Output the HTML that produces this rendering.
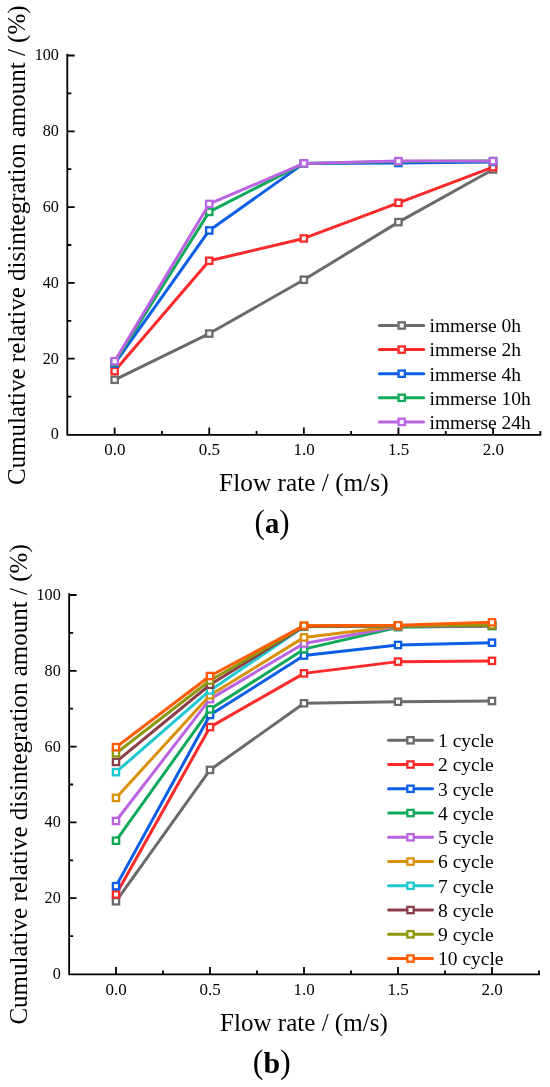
<!DOCTYPE html>
<html><head><meta charset="utf-8"><title>Cumulative relative disintegration amount</title>
<style>
html,body{margin:0;padding:0;background:#fff;}
body{width:550px;height:1087px;overflow:hidden;}
svg{display:block;}
svg text{font-family:"Liberation Serif","Times New Roman",serif;fill:#000;}
</style></head><body>
<svg width="550" height="1087" viewBox="0 0 550 1087">
<path d="M67.3 54.6V434.9H540.35" fill="none" stroke="#000" stroke-width="1.8" stroke-linejoin="round" stroke-linecap="square"/>
<path d="M67.3 396.6h4M67.3 358.7h7.4M67.3 320.8h4M67.3 282.9h7.4M67.3 245h4M67.3 207.1h7.4M67.3 169.2h4M67.3 131.3h7.4M67.3 93.4h4M67.3 55.5h7.4M114.65 434.9v-7.4M161.95 434.9v-4M209.25 434.9v-7.4M256.55 434.9v-4M303.85 434.9v-7.4M351.15 434.9v-4M398.45 434.9v-7.4M445.75 434.9v-4M493.05 434.9v-7.4M540.35 434.9v-4" stroke="#000" stroke-width="1.8" fill="none"/>
<text transform="translate(58.9 439.4) scale(0.95 1)" text-anchor="end" font-size="17">0</text>
<text transform="translate(58.9 363.6) scale(0.95 1)" text-anchor="end" font-size="17">20</text>
<text transform="translate(58.9 287.8) scale(0.95 1)" text-anchor="end" font-size="17">40</text>
<text transform="translate(58.9 212) scale(0.95 1)" text-anchor="end" font-size="17">60</text>
<text transform="translate(58.9 136.2) scale(0.95 1)" text-anchor="end" font-size="17">80</text>
<text transform="translate(58.9 60.4) scale(0.95 1)" text-anchor="end" font-size="17">100</text>
<text x="114.85" y="455.1" text-anchor="middle" font-size="17">0.0</text>
<text x="209.45" y="455.1" text-anchor="middle" font-size="17">0.5</text>
<text x="304.05" y="455.1" text-anchor="middle" font-size="17">1.0</text>
<text x="398.65" y="455.1" text-anchor="middle" font-size="17">1.5</text>
<text x="493.25" y="455.1" text-anchor="middle" font-size="17">2.0</text>
<polyline points="114.65,379.8 209.25,333.56 303.85,279.75 398.45,222.14 493.05,169.46" fill="none" stroke="#6b6b6b" stroke-width="3.0" stroke-linejoin="round" stroke-linecap="round"/>
<rect x="111.5" y="376.65" width="6.3" height="6.3" fill="#fff" stroke="#6b6b6b" stroke-width="2.3"/>
<rect x="206.1" y="330.42" width="6.3" height="6.3" fill="#fff" stroke="#6b6b6b" stroke-width="2.3"/>
<rect x="300.7" y="276.6" width="6.3" height="6.3" fill="#fff" stroke="#6b6b6b" stroke-width="2.3"/>
<rect x="395.3" y="218.99" width="6.3" height="6.3" fill="#fff" stroke="#6b6b6b" stroke-width="2.3"/>
<rect x="489.9" y="166.31" width="6.3" height="6.3" fill="#fff" stroke="#6b6b6b" stroke-width="2.3"/>
<polyline points="114.65,371.09 209.25,260.8 303.85,238.44 398.45,202.81 493.05,167.18" fill="none" stroke="#fa2a2a" stroke-width="3.0" stroke-linejoin="round" stroke-linecap="round"/>
<rect x="111.5" y="367.94" width="6.3" height="6.3" fill="#fff" stroke="#fa2a2a" stroke-width="2.3"/>
<rect x="206.1" y="257.65" width="6.3" height="6.3" fill="#fff" stroke="#fa2a2a" stroke-width="2.3"/>
<rect x="300.7" y="235.29" width="6.3" height="6.3" fill="#fff" stroke="#fa2a2a" stroke-width="2.3"/>
<rect x="395.3" y="199.66" width="6.3" height="6.3" fill="#fff" stroke="#fa2a2a" stroke-width="2.3"/>
<rect x="489.9" y="164.03" width="6.3" height="6.3" fill="#fff" stroke="#fa2a2a" stroke-width="2.3"/>
<polyline points="114.65,363.51 209.25,230.48 303.85,163.39 398.45,163.01 493.05,161.88" fill="none" stroke="#0c5ee6" stroke-width="3.0" stroke-linejoin="round" stroke-linecap="round"/>
<rect x="111.5" y="360.36" width="6.3" height="6.3" fill="#fff" stroke="#0c5ee6" stroke-width="2.3"/>
<rect x="206.1" y="227.33" width="6.3" height="6.3" fill="#fff" stroke="#0c5ee6" stroke-width="2.3"/>
<rect x="300.7" y="160.24" width="6.3" height="6.3" fill="#fff" stroke="#0c5ee6" stroke-width="2.3"/>
<rect x="395.3" y="159.86" width="6.3" height="6.3" fill="#fff" stroke="#0c5ee6" stroke-width="2.3"/>
<rect x="489.9" y="158.73" width="6.3" height="6.3" fill="#fff" stroke="#0c5ee6" stroke-width="2.3"/>
<polyline points="114.65,362.37 209.25,211.91 303.85,163.39 398.45,161.5 493.05,161.12" fill="none" stroke="#0fa95a" stroke-width="3.0" stroke-linejoin="round" stroke-linecap="round"/>
<rect x="111.5" y="359.22" width="6.3" height="6.3" fill="#fff" stroke="#0fa95a" stroke-width="2.3"/>
<rect x="206.1" y="208.76" width="6.3" height="6.3" fill="#fff" stroke="#0fa95a" stroke-width="2.3"/>
<rect x="300.7" y="160.24" width="6.3" height="6.3" fill="#fff" stroke="#0fa95a" stroke-width="2.3"/>
<rect x="395.3" y="158.35" width="6.3" height="6.3" fill="#fff" stroke="#0fa95a" stroke-width="2.3"/>
<rect x="489.9" y="157.97" width="6.3" height="6.3" fill="#fff" stroke="#0fa95a" stroke-width="2.3"/>
<polyline points="114.65,361.23 209.25,203.95 303.85,163.39 398.45,161.12 493.05,161.12" fill="none" stroke="#bb64e2" stroke-width="3.0" stroke-linejoin="round" stroke-linecap="round"/>
<rect x="111.5" y="358.08" width="6.3" height="6.3" fill="#fff" stroke="#bb64e2" stroke-width="2.3"/>
<rect x="206.1" y="200.8" width="6.3" height="6.3" fill="#fff" stroke="#bb64e2" stroke-width="2.3"/>
<rect x="300.7" y="160.24" width="6.3" height="6.3" fill="#fff" stroke="#bb64e2" stroke-width="2.3"/>
<rect x="395.3" y="157.97" width="6.3" height="6.3" fill="#fff" stroke="#bb64e2" stroke-width="2.3"/>
<rect x="489.9" y="157.97" width="6.3" height="6.3" fill="#fff" stroke="#bb64e2" stroke-width="2.3"/>
<path d="M379.4 325.5H423.7" stroke="#6b6b6b" stroke-width="3.0" stroke-linecap="round"/>
<rect x="398.55" y="322.35" width="6.3" height="6.3" fill="#fff" stroke="#6b6b6b" stroke-width="2.3"/>
<text x="429.5" y="332.3" font-size="19.5">immerse 0h</text>
<path d="M379.4 349.6H423.7" stroke="#fa2a2a" stroke-width="3.0" stroke-linecap="round"/>
<rect x="398.55" y="346.45" width="6.3" height="6.3" fill="#fff" stroke="#fa2a2a" stroke-width="2.3"/>
<text x="429.5" y="356.4" font-size="19.5">immerse 2h</text>
<path d="M379.4 373.7H423.7" stroke="#0c5ee6" stroke-width="3.0" stroke-linecap="round"/>
<rect x="398.55" y="370.55" width="6.3" height="6.3" fill="#fff" stroke="#0c5ee6" stroke-width="2.3"/>
<text x="429.5" y="380.5" font-size="19.5">immerse 4h</text>
<path d="M379.4 397.8H423.7" stroke="#0fa95a" stroke-width="3.0" stroke-linecap="round"/>
<rect x="398.55" y="394.65" width="6.3" height="6.3" fill="#fff" stroke="#0fa95a" stroke-width="2.3"/>
<text x="429.5" y="404.6" font-size="19.5">immerse 10h</text>
<path d="M379.4 421.9H423.7" stroke="#bb64e2" stroke-width="3.0" stroke-linecap="round"/>
<rect x="398.55" y="418.75" width="6.3" height="6.3" fill="#fff" stroke="#bb64e2" stroke-width="2.3"/>
<text x="429.5" y="428.7" font-size="19.5">immerse 24h</text>
<text transform="translate(25.2 485) rotate(-90) scale(0.9613 1)" font-size="26">Cumulative relative disintegration amount / (%)</text>
<text transform="translate(219.1 490.9) scale(0.9744 1)" font-size="26">Flow rate / (m/s)</text>
<text transform="translate(254.6 532.5) scale(0.94 1)" font-size="33">(<tspan font-weight="bold" font-size="30.5">a</tspan>)</text>
<path d="M69.15 594.1V974.4H539" fill="none" stroke="#000" stroke-width="1.8" stroke-linejoin="round" stroke-linecap="square"/>
<path d="M69.15 936.1h4M69.15 898.2h7.4M69.15 860.3h4M69.15 822.4h7.4M69.15 784.5h4M69.15 746.6h7.4M69.15 708.7h4M69.15 670.8h7.4M69.15 632.9h4M69.15 595h7.4M116 974.4v-7.4M163 974.4v-4M210 974.4v-7.4M257 974.4v-4M304 974.4v-7.4M351 974.4v-4M398 974.4v-7.4M445 974.4v-4M492 974.4v-7.4M539 974.4v-4" stroke="#000" stroke-width="1.8" fill="none"/>
<text transform="translate(60.75 978.9) scale(0.95 1)" text-anchor="end" font-size="17">0</text>
<text transform="translate(60.75 903.1) scale(0.95 1)" text-anchor="end" font-size="17">20</text>
<text transform="translate(60.75 827.3) scale(0.95 1)" text-anchor="end" font-size="17">40</text>
<text transform="translate(60.75 751.5) scale(0.95 1)" text-anchor="end" font-size="17">60</text>
<text transform="translate(60.75 675.7) scale(0.95 1)" text-anchor="end" font-size="17">80</text>
<text transform="translate(60.75 599.9) scale(0.95 1)" text-anchor="end" font-size="17">100</text>
<text x="116.2" y="994.6" text-anchor="middle" font-size="17">0.0</text>
<text x="210.2" y="994.6" text-anchor="middle" font-size="17">0.5</text>
<text x="304.2" y="994.6" text-anchor="middle" font-size="17">1.0</text>
<text x="398.2" y="994.6" text-anchor="middle" font-size="17">1.5</text>
<text x="492.2" y="994.6" text-anchor="middle" font-size="17">2.0</text>
<polyline points="116,901.29 210,769.91 304,703.28 398,701.77 492,701.01" fill="none" stroke="#6b6b6b" stroke-width="3.0" stroke-linejoin="round" stroke-linecap="round"/>
<rect x="112.85" y="898.14" width="6.3" height="6.3" fill="#fff" stroke="#6b6b6b" stroke-width="2.3"/>
<rect x="206.85" y="766.76" width="6.3" height="6.3" fill="#fff" stroke="#6b6b6b" stroke-width="2.3"/>
<rect x="300.85" y="700.13" width="6.3" height="6.3" fill="#fff" stroke="#6b6b6b" stroke-width="2.3"/>
<rect x="394.85" y="698.62" width="6.3" height="6.3" fill="#fff" stroke="#6b6b6b" stroke-width="2.3"/>
<rect x="488.85" y="697.86" width="6.3" height="6.3" fill="#fff" stroke="#6b6b6b" stroke-width="2.3"/>
<polyline points="116,894.47 210,727.13 304,673.37 398,661.63 492,660.88" fill="none" stroke="#fa2a2a" stroke-width="3.0" stroke-linejoin="round" stroke-linecap="round"/>
<rect x="112.85" y="891.32" width="6.3" height="6.3" fill="#fff" stroke="#fa2a2a" stroke-width="2.3"/>
<rect x="206.85" y="723.98" width="6.3" height="6.3" fill="#fff" stroke="#fa2a2a" stroke-width="2.3"/>
<rect x="300.85" y="670.22" width="6.3" height="6.3" fill="#fff" stroke="#fa2a2a" stroke-width="2.3"/>
<rect x="394.85" y="658.48" width="6.3" height="6.3" fill="#fff" stroke="#fa2a2a" stroke-width="2.3"/>
<rect x="488.85" y="657.73" width="6.3" height="6.3" fill="#fff" stroke="#fa2a2a" stroke-width="2.3"/>
<polyline points="116,886.14 210,715.02 304,655.58 398,644.98 492,642.7" fill="none" stroke="#0c5ee6" stroke-width="3.0" stroke-linejoin="round" stroke-linecap="round"/>
<rect x="112.85" y="882.99" width="6.3" height="6.3" fill="#fff" stroke="#0c5ee6" stroke-width="2.3"/>
<rect x="206.85" y="711.87" width="6.3" height="6.3" fill="#fff" stroke="#0c5ee6" stroke-width="2.3"/>
<rect x="300.85" y="652.43" width="6.3" height="6.3" fill="#fff" stroke="#0c5ee6" stroke-width="2.3"/>
<rect x="394.85" y="641.83" width="6.3" height="6.3" fill="#fff" stroke="#0c5ee6" stroke-width="2.3"/>
<rect x="488.85" y="639.55" width="6.3" height="6.3" fill="#fff" stroke="#0c5ee6" stroke-width="2.3"/>
<polyline points="116,840.71 210,709.34 304,649.14 398,627.18 492,626.05" fill="none" stroke="#0fa95a" stroke-width="3.0" stroke-linejoin="round" stroke-linecap="round"/>
<rect x="112.85" y="837.56" width="6.3" height="6.3" fill="#fff" stroke="#0fa95a" stroke-width="2.3"/>
<rect x="206.85" y="706.19" width="6.3" height="6.3" fill="#fff" stroke="#0fa95a" stroke-width="2.3"/>
<rect x="300.85" y="645.99" width="6.3" height="6.3" fill="#fff" stroke="#0fa95a" stroke-width="2.3"/>
<rect x="394.85" y="624.03" width="6.3" height="6.3" fill="#fff" stroke="#0fa95a" stroke-width="2.3"/>
<rect x="488.85" y="622.9" width="6.3" height="6.3" fill="#fff" stroke="#0fa95a" stroke-width="2.3"/>
<polyline points="116,821.02 210,699.12 304,643.46 398,626.42 492,625.67" fill="none" stroke="#bb64e2" stroke-width="3.0" stroke-linejoin="round" stroke-linecap="round"/>
<rect x="112.85" y="817.87" width="6.3" height="6.3" fill="#fff" stroke="#bb64e2" stroke-width="2.3"/>
<rect x="206.85" y="695.97" width="6.3" height="6.3" fill="#fff" stroke="#bb64e2" stroke-width="2.3"/>
<rect x="300.85" y="640.31" width="6.3" height="6.3" fill="#fff" stroke="#bb64e2" stroke-width="2.3"/>
<rect x="394.85" y="623.27" width="6.3" height="6.3" fill="#fff" stroke="#bb64e2" stroke-width="2.3"/>
<rect x="488.85" y="622.52" width="6.3" height="6.3" fill="#fff" stroke="#bb64e2" stroke-width="2.3"/>
<polyline points="116,797.93 210,695.33 304,637.4 398,626.05 492,625.29" fill="none" stroke="#da910a" stroke-width="3.0" stroke-linejoin="round" stroke-linecap="round"/>
<rect x="112.85" y="794.78" width="6.3" height="6.3" fill="#fff" stroke="#da910a" stroke-width="2.3"/>
<rect x="206.85" y="692.18" width="6.3" height="6.3" fill="#fff" stroke="#da910a" stroke-width="2.3"/>
<rect x="300.85" y="634.25" width="6.3" height="6.3" fill="#fff" stroke="#da910a" stroke-width="2.3"/>
<rect x="394.85" y="622.9" width="6.3" height="6.3" fill="#fff" stroke="#da910a" stroke-width="2.3"/>
<rect x="488.85" y="622.14" width="6.3" height="6.3" fill="#fff" stroke="#da910a" stroke-width="2.3"/>
<polyline points="116,772.18 210,690.41 304,626.8 398,626.05 492,625.29" fill="none" stroke="#1fc8cf" stroke-width="3.0" stroke-linejoin="round" stroke-linecap="round"/>
<rect x="112.85" y="769.03" width="6.3" height="6.3" fill="#fff" stroke="#1fc8cf" stroke-width="2.3"/>
<rect x="206.85" y="687.26" width="6.3" height="6.3" fill="#fff" stroke="#1fc8cf" stroke-width="2.3"/>
<rect x="300.85" y="623.65" width="6.3" height="6.3" fill="#fff" stroke="#1fc8cf" stroke-width="2.3"/>
<rect x="394.85" y="622.9" width="6.3" height="6.3" fill="#fff" stroke="#1fc8cf" stroke-width="2.3"/>
<rect x="488.85" y="622.14" width="6.3" height="6.3" fill="#fff" stroke="#1fc8cf" stroke-width="2.3"/>
<polyline points="116,761.96 210,684.73 304,626.42 398,626.05 492,625.67" fill="none" stroke="#8a3e47" stroke-width="3.0" stroke-linejoin="round" stroke-linecap="round"/>
<rect x="112.85" y="758.81" width="6.3" height="6.3" fill="#fff" stroke="#8a3e47" stroke-width="2.3"/>
<rect x="206.85" y="681.58" width="6.3" height="6.3" fill="#fff" stroke="#8a3e47" stroke-width="2.3"/>
<rect x="300.85" y="623.27" width="6.3" height="6.3" fill="#fff" stroke="#8a3e47" stroke-width="2.3"/>
<rect x="394.85" y="622.9" width="6.3" height="6.3" fill="#fff" stroke="#8a3e47" stroke-width="2.3"/>
<rect x="488.85" y="622.52" width="6.3" height="6.3" fill="#fff" stroke="#8a3e47" stroke-width="2.3"/>
<polyline points="116,753.25 210,680.56 304,626.05 398,625.67 492,625.29" fill="none" stroke="#8e980c" stroke-width="3.0" stroke-linejoin="round" stroke-linecap="round"/>
<rect x="112.85" y="750.1" width="6.3" height="6.3" fill="#fff" stroke="#8e980c" stroke-width="2.3"/>
<rect x="206.85" y="677.41" width="6.3" height="6.3" fill="#fff" stroke="#8e980c" stroke-width="2.3"/>
<rect x="300.85" y="622.9" width="6.3" height="6.3" fill="#fff" stroke="#8e980c" stroke-width="2.3"/>
<rect x="394.85" y="622.52" width="6.3" height="6.3" fill="#fff" stroke="#8e980c" stroke-width="2.3"/>
<rect x="488.85" y="622.14" width="6.3" height="6.3" fill="#fff" stroke="#8e980c" stroke-width="2.3"/>
<polyline points="116,747.2 210,676.02 304,625.67 398,625.29 492,622.26" fill="none" stroke="#ff5c05" stroke-width="3.0" stroke-linejoin="round" stroke-linecap="round"/>
<rect x="112.85" y="744.05" width="6.3" height="6.3" fill="#fff" stroke="#ff5c05" stroke-width="2.3"/>
<rect x="206.85" y="672.87" width="6.3" height="6.3" fill="#fff" stroke="#ff5c05" stroke-width="2.3"/>
<rect x="300.85" y="622.52" width="6.3" height="6.3" fill="#fff" stroke="#ff5c05" stroke-width="2.3"/>
<rect x="394.85" y="622.14" width="6.3" height="6.3" fill="#fff" stroke="#ff5c05" stroke-width="2.3"/>
<rect x="488.85" y="619.11" width="6.3" height="6.3" fill="#fff" stroke="#ff5c05" stroke-width="2.3"/>
<path d="M388.6 740.3H432.5" stroke="#6b6b6b" stroke-width="3.0" stroke-linecap="round"/>
<rect x="407.35" y="737.15" width="6.3" height="6.3" fill="#fff" stroke="#6b6b6b" stroke-width="2.3"/>
<text x="438" y="747.1" font-size="19.5">1 cycle</text>
<path d="M388.6 764.55H432.5" stroke="#fa2a2a" stroke-width="3.0" stroke-linecap="round"/>
<rect x="407.35" y="761.4" width="6.3" height="6.3" fill="#fff" stroke="#fa2a2a" stroke-width="2.3"/>
<text x="438" y="771.35" font-size="19.5">2 cycle</text>
<path d="M388.6 788.8H432.5" stroke="#0c5ee6" stroke-width="3.0" stroke-linecap="round"/>
<rect x="407.35" y="785.65" width="6.3" height="6.3" fill="#fff" stroke="#0c5ee6" stroke-width="2.3"/>
<text x="438" y="795.6" font-size="19.5">3 cycle</text>
<path d="M388.6 813.05H432.5" stroke="#0fa95a" stroke-width="3.0" stroke-linecap="round"/>
<rect x="407.35" y="809.9" width="6.3" height="6.3" fill="#fff" stroke="#0fa95a" stroke-width="2.3"/>
<text x="438" y="819.85" font-size="19.5">4 cycle</text>
<path d="M388.6 837.3H432.5" stroke="#bb64e2" stroke-width="3.0" stroke-linecap="round"/>
<rect x="407.35" y="834.15" width="6.3" height="6.3" fill="#fff" stroke="#bb64e2" stroke-width="2.3"/>
<text x="438" y="844.1" font-size="19.5">5 cycle</text>
<path d="M388.6 861.55H432.5" stroke="#da910a" stroke-width="3.0" stroke-linecap="round"/>
<rect x="407.35" y="858.4" width="6.3" height="6.3" fill="#fff" stroke="#da910a" stroke-width="2.3"/>
<text x="438" y="868.35" font-size="19.5">6 cycle</text>
<path d="M388.6 885.8H432.5" stroke="#1fc8cf" stroke-width="3.0" stroke-linecap="round"/>
<rect x="407.35" y="882.65" width="6.3" height="6.3" fill="#fff" stroke="#1fc8cf" stroke-width="2.3"/>
<text x="438" y="892.6" font-size="19.5">7 cycle</text>
<path d="M388.6 910.05H432.5" stroke="#8a3e47" stroke-width="3.0" stroke-linecap="round"/>
<rect x="407.35" y="906.9" width="6.3" height="6.3" fill="#fff" stroke="#8a3e47" stroke-width="2.3"/>
<text x="438" y="916.85" font-size="19.5">8 cycle</text>
<path d="M388.6 934.3H432.5" stroke="#8e980c" stroke-width="3.0" stroke-linecap="round"/>
<rect x="407.35" y="931.15" width="6.3" height="6.3" fill="#fff" stroke="#8e980c" stroke-width="2.3"/>
<text x="438" y="941.1" font-size="19.5">9 cycle</text>
<path d="M388.6 958.55H432.5" stroke="#ff5c05" stroke-width="3.0" stroke-linecap="round"/>
<rect x="407.35" y="955.4" width="6.3" height="6.3" fill="#fff" stroke="#ff5c05" stroke-width="2.3"/>
<text x="438" y="965.35" font-size="19.5">10 cycle</text>
<text transform="translate(27.2 1024.6) rotate(-90) scale(0.963 1)" font-size="26">Cumulative relative disintegration amount / (%)</text>
<text transform="translate(220.1 1030.9) scale(0.964 1)" font-size="26">Flow rate / (m/s)</text>
<text transform="translate(252.7 1072.6) scale(0.978 1)" font-size="33">(<tspan font-weight="bold" font-size="30.5">b</tspan>)</text>
</svg>
</body></html>
